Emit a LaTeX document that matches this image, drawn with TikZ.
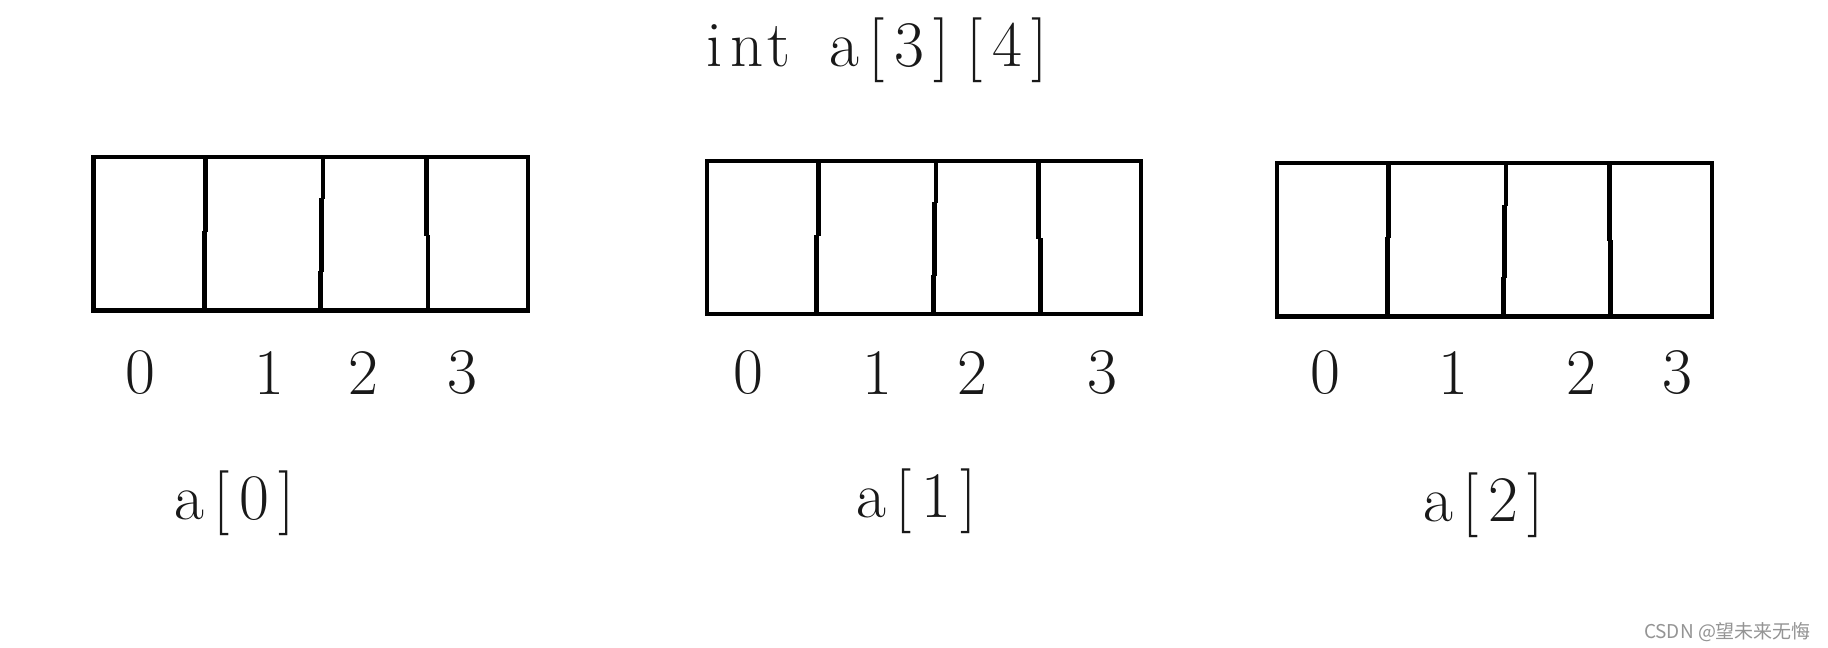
\documentclass[tikz,border=0pt]{standalone}
\usepackage{fontspec}
\newfontfamily\cjkfont{Noto Sans CJK SC}
\newcommand\mchar[1]{\makebox[0.5em]{#1}}
\tikzset{
  big/.style={inner sep=0pt, font=\fontsize{32.5}{39}\selectfont, text=black!90},
  cell/.style={line width=2.25pt, line cap=butt},
}
\begin{document}
\begin{tikzpicture}[x=0.5pt,y=-0.5pt]
\useasboundingbox[fill=white] (0,0) rectangle (1828,648);
% title
\node[big] (title) at (877,50) {\mchar{i}\mchar{n}\mchar{t}\mchar{ }\mchar{a}\mchar{[}\mchar{3}\mchar{]}\mchar{[}\mchar{4}\mchar{]}};
% box a[0]
\draw[cell] (93.7,157) rectangle (527.8,310.6);
\draw[cell] (205.3,157) -- (205.3,232); \draw[cell] (204.3,231) -- (204.3,310.6);
\draw[cell] (323,157) -- (323,199); \draw[cell] (321.3,198) -- (321.3,272); \draw[cell] (320.3,271) -- (320.3,310.6);
\draw[cell] (426.3,157) -- (426.3,236); \draw[cell] (428,235) -- (428,310.6);
% box a[1]
\draw[cell] (707,160.8) rectangle (1141,314.2);
\draw[cell] (818.3,160.8) -- (818.3,236); \draw[cell] (816.7,235) -- (816.7,314.2);
\draw[cell] (936,160.8) -- (936,202.5); \draw[cell] (934.7,201.5) -- (934.7,276); \draw[cell] (933.7,275) -- (933.7,314.2);
\draw[cell] (1038.7,160.8) -- (1038.7,239); \draw[cell] (1040.3,238) -- (1040.3,314.2);
% box a[2]
\draw[cell] (1277,163.2) rectangle (1712,316.5);
\draw[cell] (1388.7,163.2) -- (1388.7,237.5); \draw[cell] (1387.7,236.5) -- (1387.7,316.5);
\draw[cell] (1506,163.2) -- (1506,206); \draw[cell] (1504.7,205) -- (1504.7,277.5); \draw[cell] (1503.7,276.5) -- (1503.7,316.5);
\draw[cell] (1609.3,163.2) -- (1609.3,241); \draw[cell] (1610.7,240) -- (1610.7,316.5);
% indices
\node[big] (i00) at (140,373) {0};
\node[big] (i01) at (269,373) {1};
\node[big] (i02) at (363,373) {2};
\node[big] (i03) at (462,373) {3};
\node[big] (i10) at (748,373) {0};
\node[big] (i11) at (877,373) {1};
\node[big] (i12) at (972,373) {2};
\node[big] (i13) at (1102,373) {3};
\node[big] (i20) at (1325,373) {0};
\node[big] (i21) at (1453,373) {1};
\node[big] (i22) at (1581,373) {2};
\node[big] (i23) at (1677,373) {3};
% row labels
\node[big] (r0) at (238,503) {\mchar{a}\mchar{[}\mchar{0}\mchar{]}};
\node[big] (r1) at (920,501) {\mchar{a}\mchar{[}\mchar{1}\mchar{]}};
\node[big] (r2) at (1487,505) {\mchar{a}\mchar{[}\mchar{2}\mchar{]}};
% watermark
\node[inner sep=0pt, text=black!42, font=\cjkfont\fontsize{9.5}{11}\selectfont] (wm) at (1727.5,632) {CSDN @望未来无悔};
\end{tikzpicture}
\end{document}
